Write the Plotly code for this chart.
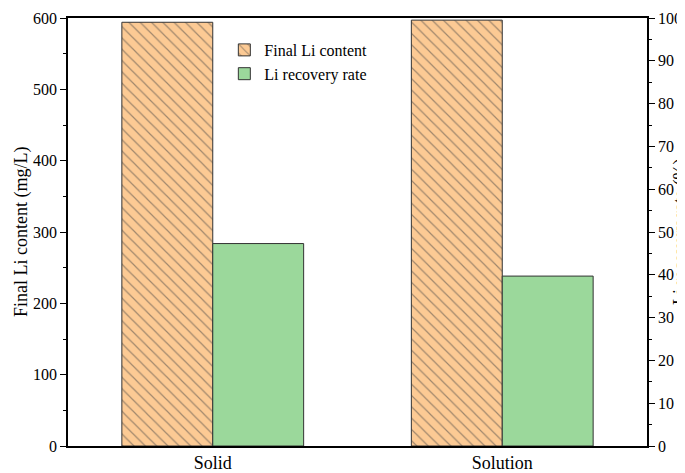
import plotly.graph_objects as go

categories = ["Solid", "Solution"]
final_li = [594, 597]          # mg/L
recovery_rate = [47.3, 39.7]   # %

w = 0.314
fig = go.Figure()
fig.add_trace(go.Bar(
    x=categories, y=final_li, name="Final Li content", yaxis="y",
    offsetgroup="a", offset=-w, width=w,
    marker=dict(color="#FCCA94", line=dict(color="#333", width=1),
                pattern=dict(shape="\\", fgcolor="#444", size=8, solidity=0.15)),
))
fig.add_trace(go.Bar(
    x=categories, y=recovery_rate, name="Li recovery rate", yaxis="y2",
    offsetgroup="b", offset=0, width=w,
    marker=dict(color="#9BD89B", line=dict(color="#333", width=1)),
))

font = dict(family="Liberation Serif", size=16, color="black")
axis_common = dict(showline=True, linecolor="black", linewidth=1.5, ticks="outside",
                   ticklen=6, tickcolor="black", showgrid=False, zeroline=False,
                   automargin=False)
fig.update_layout(
    width=685, height=473, margin=dict(l=60, r=46, t=8, b=32),
    plot_bgcolor="white", paper_bgcolor="white", font=font,
    barmode="group", showlegend=True,
    legend=dict(x=0.27, y=0.965, xanchor="left", yanchor="top", bgcolor="rgba(0,0,0,0)",
                font=dict(family="Liberation Serif", size=16), tracegroupgap=0),
    xaxis=dict(range=[-0.5, 1.5], showline=True, linecolor="black", linewidth=1.5,
               mirror=True, ticks="", showgrid=False, tickfont=dict(size=18)),
    yaxis=dict(range=[0, 600], dtick=100,
               minor=dict(ticks="outside", ticklen=3, tickcolor="black", dtick=50),
               **axis_common),
    yaxis2=dict(range=[0, 100], dtick=10, overlaying="y", side="right",
                minor=dict(ticks="outside", ticklen=3, tickcolor="black", dtick=5),
                **axis_common),
    annotations=[
        dict(text="Final Li content (mg/L)", x=0, y=0.5, xref="paper", yref="paper",
             xanchor="center", yanchor="middle", xshift=-47, textangle=-90,
             showarrow=False, font=dict(size=18)),
        dict(text="Li recovery rate (%)", x=1, y=0.5, xref="paper", yref="paper",
             xanchor="center", yanchor="middle", xshift=33, textangle=-90,
             showarrow=False, font=dict(size=18)),
    ],
)
fig.write_html("out.html")
